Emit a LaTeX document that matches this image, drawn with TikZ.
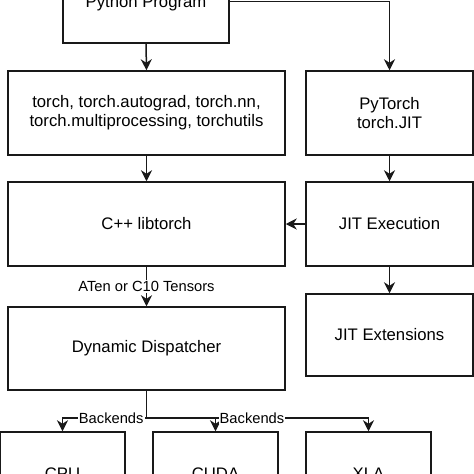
\documentclass[tikz,border=0pt]{standalone}
\usepackage{fontspec}
\setmainfont{Liberation Sans}
\usetikzlibrary{arrows.meta}
\begin{document}
\begin{tikzpicture}[x=1pt,y=-1pt,
  box/.style={draw=black!90, line width=1.5pt, fill=white, rectangle, inner sep=0pt, align=center, font=\fontsize{16.7}{19}\selectfont},
  arr/.style={draw=black!90, line width=1.5pt, -{Stealth[length=11pt,width=11pt,inset=3.5pt]}},
  lbl/.style={fill=white, inner sep=1pt, font=\fontsize{14.7}{17}\selectfont}]
\useasboundingbox (0,0) rectangle (474,474);
\node[box, minimum width=166pt, minimum height=79pt] (py) at (146,3.5) {Python Program};
\node[box, minimum width=277pt, minimum height=84pt] (torch) at (146.5,113) {torch, torch.autograd, torch.nn,\\torch.multiprocessing, torchutils};
\node[box, minimum width=167pt, minimum height=84pt] (jit) at (389.5,113) {PyTorch\\torch.JIT};
\node[box, minimum width=277pt, minimum height=84pt] (cpp) at (146.5,224) {C++ libtorch};
\node[box, minimum width=167pt, minimum height=84pt] (jitexec) at (389.5,224) {JIT Execution};
\node[box, minimum width=167pt, minimum height=82pt] (jitext) at (389.5,335) {JIT Extensions};
\node[box, minimum width=277pt, minimum height=83pt] (disp) at (146.5,348.5) {Dynamic Dispatcher};
\node[box, minimum width=125pt, minimum height=84pt] (cpu) at (62.5,474) {CPU};
\node[box, minimum width=125pt, minimum height=84pt] (cuda) at (215.5,474) {CUDA};
\node[box, minimum width=125pt, minimum height=84pt] (xla) at (368.5,474) {XLA};
\coordinate (t0) at (229,1.5);
\coordinate (t1) at (389.5,1.5);
\coordinate (split) at (146.5,418);
\draw[arr] (py.south) -- (torch.north);
\draw[arr] (t0) -- (t1) -- (jit.north);
\draw[arr] (torch.south) -- (cpp.north);
\draw[arr] (jit.south) -- (jitexec.north);
\draw[arr] (jitexec.west) -- (cpp.east);
\draw[arr] (jitexec.south) -- (jitext.north);
\draw[arr] (cpp.south) -- node[lbl, midway] {ATen or C10 Tensors} (disp.north);
\draw[arr] (disp.south) -- (split) -- node[lbl, pos=0.42] {Backends} (split -| cpu.north) -- (cpu.north);
\draw[arr] (split) -- (split -| cuda.north) -- (cuda.north);
\draw[arr] (split) -- node[lbl, pos=0.475] {Backends} (split -| xla.north) -- (xla.north);
\end{tikzpicture}
\end{document}
